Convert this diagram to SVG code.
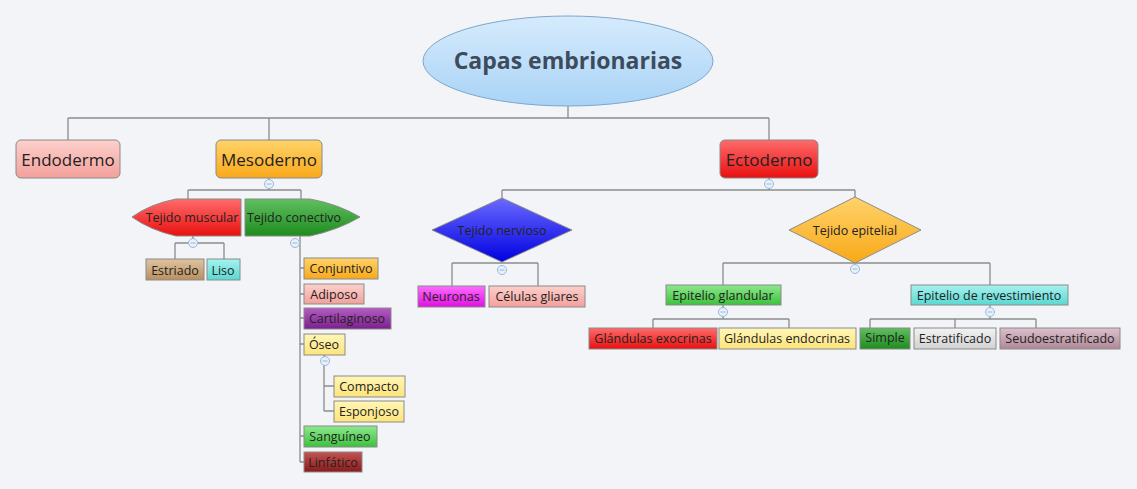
<svg xmlns="http://www.w3.org/2000/svg" width="1137" height="489" viewBox="0 0 1137 489">
<defs>
<linearGradient id="gBlue" x1="0" y1="0" x2="0" y2="1"><stop offset="0" stop-color="#d6ebfc"/><stop offset="1" stop-color="#a9d3f6"/></linearGradient>
<linearGradient id="gPink" x1="0" y1="0" x2="0" y2="1"><stop offset="0" stop-color="#fdd0cc"/><stop offset="1" stop-color="#f3a09b"/></linearGradient>
<linearGradient id="gOrange" x1="0" y1="0" x2="0" y2="1"><stop offset="0" stop-color="#ffd36a"/><stop offset="1" stop-color="#f9a818"/></linearGradient>
<linearGradient id="gRed" x1="0" y1="0" x2="0" y2="1"><stop offset="0" stop-color="#ff6b6b"/><stop offset="1" stop-color="#e8100f"/></linearGradient>
<linearGradient id="gGreen" x1="0" y1="0" x2="0" y2="1"><stop offset="0" stop-color="#5fbf5f"/><stop offset="1" stop-color="#1e8c1e"/></linearGradient>
<linearGradient id="gLGreen" x1="0" y1="0" x2="0" y2="1"><stop offset="0" stop-color="#8de88d"/><stop offset="1" stop-color="#3cc13c"/></linearGradient>
<linearGradient id="gBrown" x1="0" y1="0" x2="0" y2="1"><stop offset="0" stop-color="#e0c4a0"/><stop offset="1" stop-color="#b88f60"/></linearGradient>
<linearGradient id="gTeal" x1="0" y1="0" x2="0" y2="1"><stop offset="0" stop-color="#a6f2ee"/><stop offset="1" stop-color="#5ad8d2"/></linearGradient>
<linearGradient id="gPurple" x1="0" y1="0" x2="0" y2="1"><stop offset="0" stop-color="#b45cc4"/><stop offset="1" stop-color="#7b1f8c"/></linearGradient>
<linearGradient id="gYellow" x1="0" y1="0" x2="0" y2="1"><stop offset="0" stop-color="#fff6b8"/><stop offset="1" stop-color="#fde47a"/></linearGradient>
<linearGradient id="gDRed" x1="0" y1="0" x2="0" y2="1"><stop offset="0" stop-color="#c45454"/><stop offset="1" stop-color="#8a1a1a"/></linearGradient>
<linearGradient id="gNavy" x1="0" y1="0" x2="0" y2="1"><stop offset="0" stop-color="#6a6aff"/><stop offset="1" stop-color="#0000e0"/></linearGradient>
<linearGradient id="gMag" x1="0" y1="0" x2="0" y2="1"><stop offset="0" stop-color="#ff6bff"/><stop offset="1" stop-color="#e010e0"/></linearGradient>
<linearGradient id="gGray" x1="0" y1="0" x2="0" y2="1"><stop offset="0" stop-color="#f2f2f2"/><stop offset="1" stop-color="#d2d2d2"/></linearGradient>
<linearGradient id="gMauve" x1="0" y1="0" x2="0" y2="1"><stop offset="0" stop-color="#dcc0cc"/><stop offset="1" stop-color="#b08898"/></linearGradient>
</defs>
<style>
text{font-family:"Open Sans","Noto Sans","Liberation Sans",sans-serif;text-anchor:middle;dominant-baseline:central;fill:#222}
.b{stroke:#8a8a8a;stroke-width:1}
.big{font-size:17px}
.s{font-size:12.5px}
#connectors path{fill:none;stroke:#8c8c8c;stroke-width:1.3}
.col circle{fill:#e8f0fa;stroke:#9cb8dc;stroke-width:1}
.col line{stroke:#9cb8dc;stroke-width:1}
</style>
<rect width="1137" height="489" fill="#f3f4f8"/>
<g id="connectors">
<path d="M568 106V118M68 118H769M68 118V140M269 118V140M769 118V140"/>
<path d="M269 178V190M188 190H301M188 190V200M301 190V200"/>
<path d="M193 235V243M175 243H224M175 243V259M224 243V259"/>
<path d="M300 235V462M300 268H304M300 294H304M300 318H304M300 344H304M300 436H304M300 462H304"/>
<path d="M324 355V411M324 386H334M324 411H334"/>
<path d="M769 178V190M502 190H855M502 190V198M855 190V197"/>
<path d="M502 262V263M452 263H538M452 263V286M538 263V286"/>
<path d="M855 263H723M855 263H990M855 262V263M723 263V285M990 263V285"/>
<path d="M723 305V319M653 319H789M653 319V328M789 319V328"/>
<path d="M990 305V319M870 319H1036M870 319V328M955 319V328M1036 319V328"/>
</g>
<g class="col">
<circle cx="269" cy="184" r="4.5"/><line x1="266.5" y1="184" x2="271.5" y2="184"/>
<circle cx="193" cy="243" r="4.5"/><line x1="190.5" y1="243" x2="195.5" y2="243"/>
<circle cx="295" cy="243" r="4.5"/><line x1="292.5" y1="243" x2="297.5" y2="243"/>
<circle cx="325" cy="361" r="4.5"/><line x1="322.5" y1="361" x2="327.5" y2="361"/>
<circle cx="769" cy="184" r="4.5"/><line x1="766.5" y1="184" x2="771.5" y2="184"/>
<circle cx="502" cy="270" r="4.5"/><line x1="499.5" y1="270" x2="504.5" y2="270"/>
<circle cx="855" cy="269" r="4.5"/><line x1="852.5" y1="269" x2="857.5" y2="269"/>
<circle cx="723" cy="312" r="4.5"/><line x1="720.5" y1="312" x2="725.5" y2="312"/>
<circle cx="990" cy="312" r="4.5"/><line x1="987.5" y1="312" x2="992.5" y2="312"/>
</g>
<g id="root"><ellipse cx="568" cy="61" rx="145" ry="45" fill="url(#gBlue)" stroke="#7ea6cc"/><text x="568" y="60" style="font-size:23px;font-weight:bold;fill:#3d4b5c">Capas embrionarias</text></g>
<g id="endodermo"><rect class="b" x="16" y="140" width="104" height="38" rx="5" fill="url(#gPink)"/><text class="big" x="68" y="159">Endodermo</text></g>
<g id="mesodermo"><rect class="b" x="216" y="140" width="106" height="38" rx="5" fill="url(#gOrange)"/><text class="big" x="269" y="159">Mesodermo</text></g>
<g id="ectodermo"><rect class="b" x="720" y="140" width="98" height="38" rx="5" fill="url(#gRed)"/><text class="big" x="769" y="159">Ectodermo</text></g>
<g id="muscular"><path class="b" d="M241 199V236H176Q150 230 132 217Q150 204 176 199Z" fill="url(#gRed)"/><text class="s" x="192" y="217">Tejido muscular</text></g>
<g id="conectivo"><path class="b" d="M245 199V236H310Q338 230 360 217Q338 204 310 199Z" fill="url(#gGreen)"/><text class="s" x="294" y="217">Tejido conectivo</text></g>
<g id="estriado"><rect class="b" x="146" y="259" width="58" height="21" fill="url(#gBrown)"/><text class="s" x="175" y="270">Estriado</text></g>
<g id="liso"><rect class="b" x="207" y="259" width="33" height="21" fill="url(#gTeal)"/><text class="s" x="223" y="270">Liso</text></g>
<g id="conjuntivo"><rect class="b" x="304" y="258" width="74" height="21" fill="url(#gOrange)"/><text class="s" x="341" y="268">Conjuntivo</text></g>
<g id="adiposo"><rect class="b" x="304" y="284" width="60" height="20" fill="url(#gPink)"/><text class="s" x="334" y="294">Adiposo</text></g>
<g id="cartilaginoso"><rect class="b" x="304" y="308" width="87" height="21" fill="url(#gPurple)"/><text class="s" x="347" y="318">Cartilaginoso</text></g>
<g id="oseo"><rect class="b" x="304" y="334" width="41" height="21" fill="url(#gYellow)"/><text class="s" x="324" y="344">Óseo</text></g>
<g id="compacto"><rect class="b" x="334" y="376" width="71" height="21" fill="url(#gYellow)"/><text class="s" x="369" y="386">Compacto</text></g>
<g id="esponjoso"><rect class="b" x="334" y="401" width="70" height="21" fill="url(#gYellow)"/><text class="s" x="369" y="411">Esponjoso</text></g>
<g id="sanguineo"><rect class="b" x="304" y="426" width="73" height="21" fill="url(#gLGreen)"/><text class="s" x="340" y="436">Sanguíneo</text></g>
<g id="linfatico"><rect class="b" x="304" y="452" width="58" height="20" fill="url(#gDRed)"/><text class="s" x="333" y="462">Linfático</text></g>
<g id="nervioso"><polygon class="b" points="432,230 502,198 572,230 502,262" fill="url(#gNavy)"/><text class="s" x="502" y="230">Tejido nervioso</text></g>
<g id="epitelial"><polygon class="b" points="789,230 855,197 921,230 855,263" fill="url(#gOrange)"/><text class="s" x="855" y="230">Tejido epitelial</text></g>
<g id="neuronas"><rect class="b" x="418" y="286" width="67" height="21" fill="url(#gMag)"/><text class="s" x="451" y="296">Neuronas</text></g>
<g id="gliares"><rect class="b" x="489" y="286" width="96" height="21" fill="url(#gPink)"/><text class="s" x="537" y="296">Células gliares</text></g>
<g id="glandular"><rect class="b" x="666" y="285" width="115" height="20" fill="url(#gLGreen)"/><text class="s" x="723" y="295">Epitelio glandular</text></g>
<g id="revestimiento"><rect class="b" x="911" y="285" width="157" height="20" fill="url(#gTeal)"/><text class="s" x="989" y="295">Epitelio de revestimiento</text></g>
<g id="exocrinas"><rect class="b" x="589" y="328" width="128" height="21" fill="url(#gRed)"/><text class="s" x="653" y="338">Glándulas exocrinas</text></g>
<g id="endocrinas"><rect class="b" x="719" y="328" width="137" height="21" fill="url(#gYellow)"/><text class="s" x="787" y="338">Glándulas endocrinas</text></g>
<g id="simple"><rect class="b" x="860" y="328" width="50" height="21" fill="url(#gGreen)"/><text class="s" x="885" y="337">Simple</text></g>
<g id="estratificado"><rect class="b" x="914" y="328" width="82" height="21" fill="url(#gGray)"/><text class="s" x="955" y="338">Estratificado</text></g>
<g id="seudo"><rect class="b" x="1000" y="328" width="120" height="21" fill="url(#gMauve)"/><text class="s" x="1060" y="338">Seudoestratificado</text></g>
</svg>
